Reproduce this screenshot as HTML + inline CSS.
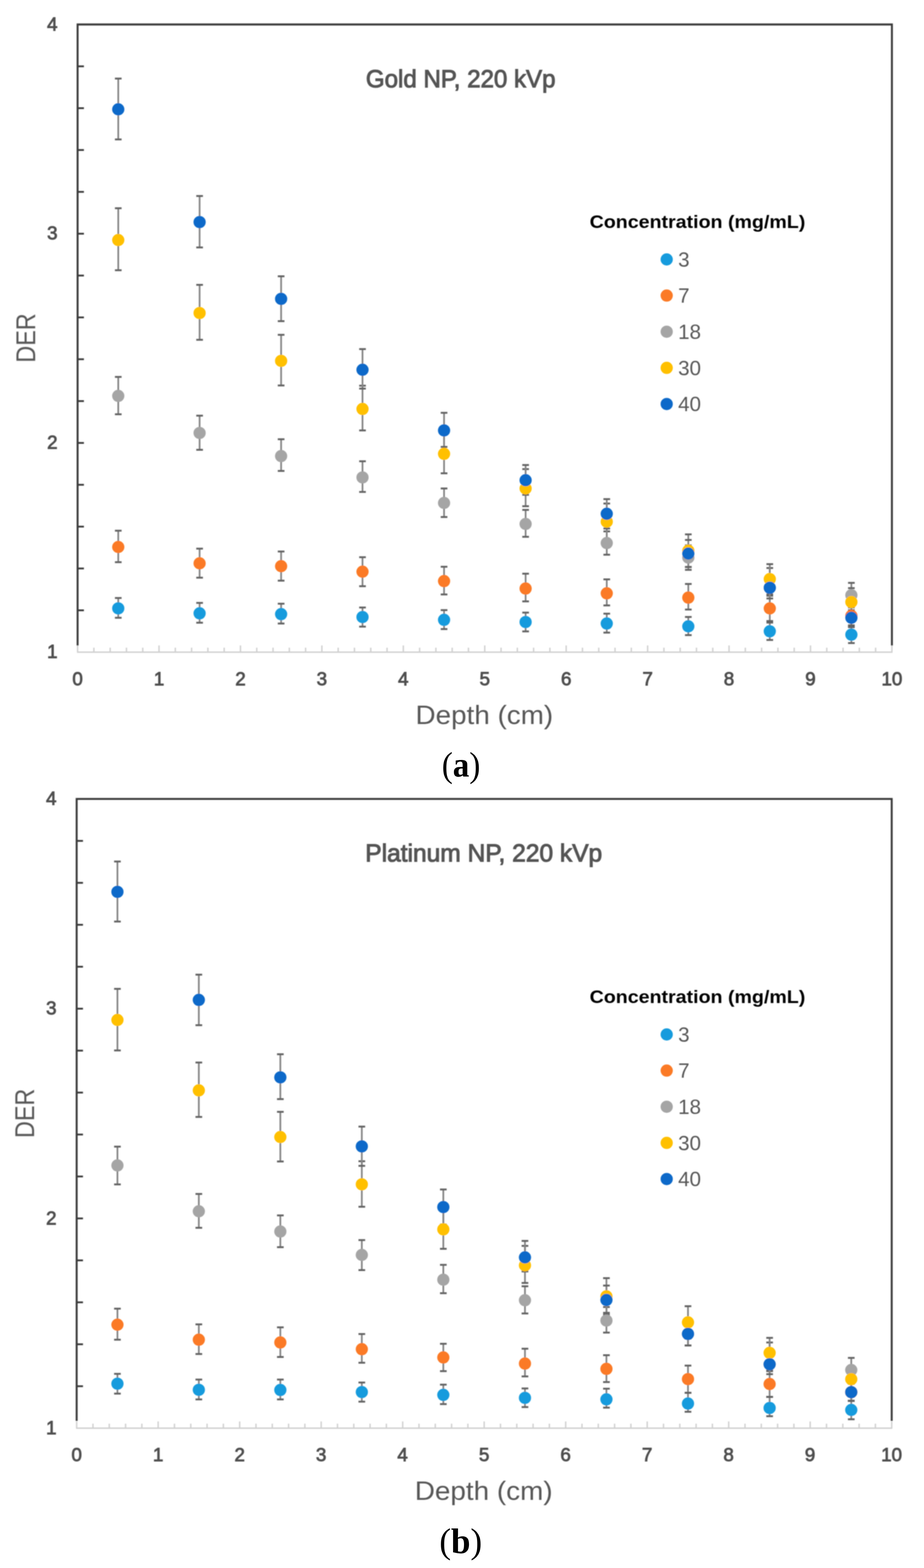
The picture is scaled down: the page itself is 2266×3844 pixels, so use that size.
<!DOCTYPE html>
<html lang="en">
<head>
<meta charset="utf-8">
<title>DER vs Depth - Gold and Platinum NP, 220 kVp</title>
<style>
html, body { margin: 0; padding: 0; background: #ffffff; }
body { width: 2266px; height: 3844px; overflow: hidden; }
svg { display: block; }
</style>
</head>
<body>
<svg width="2266" height="3844" viewBox="0 0 2266 3844">
<rect x="0" y="0" width="2266" height="3844" fill="#ffffff"/>
<defs><filter id="soft" filterUnits="userSpaceOnUse" x="0" y="0" width="2266" height="3844"><feGaussianBlur stdDeviation="0.9"/></filter></defs>
<g filter="url(#soft)">
<g stroke="#D0D0D0" stroke-width="3.4" fill="none">
<line x1="188.8" y1="1598.8" x2="2188.8" y2="1598.8"/>
<line x1="190.3" y1="1582.3" x2="190.3" y2="1598.8"/>
<line x1="230.24" y1="1587.8" x2="230.24" y2="1598.8"/>
<line x1="270.18" y1="1587.8" x2="270.18" y2="1598.8"/>
<line x1="310.12" y1="1587.8" x2="310.12" y2="1598.8"/>
<line x1="350.06" y1="1587.8" x2="350.06" y2="1598.8"/>
<line x1="390" y1="1582.3" x2="390" y2="1598.8"/>
<line x1="429.94" y1="1587.8" x2="429.94" y2="1598.8"/>
<line x1="469.88" y1="1587.8" x2="469.88" y2="1598.8"/>
<line x1="509.82" y1="1587.8" x2="509.82" y2="1598.8"/>
<line x1="549.76" y1="1587.8" x2="549.76" y2="1598.8"/>
<line x1="589.7" y1="1582.3" x2="589.7" y2="1598.8"/>
<line x1="629.64" y1="1587.8" x2="629.64" y2="1598.8"/>
<line x1="669.58" y1="1587.8" x2="669.58" y2="1598.8"/>
<line x1="709.52" y1="1587.8" x2="709.52" y2="1598.8"/>
<line x1="749.46" y1="1587.8" x2="749.46" y2="1598.8"/>
<line x1="789.4" y1="1582.3" x2="789.4" y2="1598.8"/>
<line x1="829.34" y1="1587.8" x2="829.34" y2="1598.8"/>
<line x1="869.28" y1="1587.8" x2="869.28" y2="1598.8"/>
<line x1="909.22" y1="1587.8" x2="909.22" y2="1598.8"/>
<line x1="949.16" y1="1587.8" x2="949.16" y2="1598.8"/>
<line x1="989.1" y1="1582.3" x2="989.1" y2="1598.8"/>
<line x1="1029.04" y1="1587.8" x2="1029.04" y2="1598.8"/>
<line x1="1068.98" y1="1587.8" x2="1068.98" y2="1598.8"/>
<line x1="1108.92" y1="1587.8" x2="1108.92" y2="1598.8"/>
<line x1="1148.86" y1="1587.8" x2="1148.86" y2="1598.8"/>
<line x1="1188.8" y1="1582.3" x2="1188.8" y2="1598.8"/>
<line x1="1228.74" y1="1587.8" x2="1228.74" y2="1598.8"/>
<line x1="1268.68" y1="1587.8" x2="1268.68" y2="1598.8"/>
<line x1="1308.62" y1="1587.8" x2="1308.62" y2="1598.8"/>
<line x1="1348.56" y1="1587.8" x2="1348.56" y2="1598.8"/>
<line x1="1388.5" y1="1582.3" x2="1388.5" y2="1598.8"/>
<line x1="1428.44" y1="1587.8" x2="1428.44" y2="1598.8"/>
<line x1="1468.38" y1="1587.8" x2="1468.38" y2="1598.8"/>
<line x1="1508.32" y1="1587.8" x2="1508.32" y2="1598.8"/>
<line x1="1548.26" y1="1587.8" x2="1548.26" y2="1598.8"/>
<line x1="1588.2" y1="1582.3" x2="1588.2" y2="1598.8"/>
<line x1="1628.14" y1="1587.8" x2="1628.14" y2="1598.8"/>
<line x1="1668.08" y1="1587.8" x2="1668.08" y2="1598.8"/>
<line x1="1708.02" y1="1587.8" x2="1708.02" y2="1598.8"/>
<line x1="1747.96" y1="1587.8" x2="1747.96" y2="1598.8"/>
<line x1="1787.9" y1="1582.3" x2="1787.9" y2="1598.8"/>
<line x1="1827.84" y1="1587.8" x2="1827.84" y2="1598.8"/>
<line x1="1867.78" y1="1587.8" x2="1867.78" y2="1598.8"/>
<line x1="1907.72" y1="1587.8" x2="1907.72" y2="1598.8"/>
<line x1="1947.66" y1="1587.8" x2="1947.66" y2="1598.8"/>
<line x1="1987.6" y1="1582.3" x2="1987.6" y2="1598.8"/>
<line x1="2027.54" y1="1587.8" x2="2027.54" y2="1598.8"/>
<line x1="2067.48" y1="1587.8" x2="2067.48" y2="1598.8"/>
<line x1="2107.42" y1="1587.8" x2="2107.42" y2="1598.8"/>
<line x1="2147.36" y1="1587.8" x2="2147.36" y2="1598.8"/>
<line x1="2187.3" y1="1582.3" x2="2187.3" y2="1598.8"/>
</g>
<path d="M190.3 1582.5 V60 H2187.3 V1582.5" stroke="#3A3A3A" stroke-width="4.8" fill="none" stroke-linejoin="miter"/>
<g stroke="#3A3A3A" stroke-width="4.4">
<line x1="190.3" y1="162.59" x2="205.8" y2="162.59"/>
<line x1="190.3" y1="265.17" x2="205.8" y2="265.17"/>
<line x1="190.3" y1="367.76" x2="205.8" y2="367.76"/>
<line x1="190.3" y1="470.35" x2="205.8" y2="470.35"/>
<line x1="190.3" y1="572.93" x2="205.8" y2="572.93"/>
<line x1="190.3" y1="675.52" x2="205.8" y2="675.52"/>
<line x1="190.3" y1="778.11" x2="205.8" y2="778.11"/>
<line x1="190.3" y1="880.69" x2="205.8" y2="880.69"/>
<line x1="190.3" y1="983.28" x2="205.8" y2="983.28"/>
<line x1="190.3" y1="1085.87" x2="205.8" y2="1085.87"/>
<line x1="190.3" y1="1188.45" x2="205.8" y2="1188.45"/>
<line x1="190.3" y1="1291.04" x2="205.8" y2="1291.04"/>
<line x1="190.3" y1="1393.63" x2="205.8" y2="1393.63"/>
<line x1="190.3" y1="1496.21" x2="205.8" y2="1496.21"/>
</g>
<g font-family="Liberation Sans, sans-serif" font-size="46" fill="#505050" stroke="#505050" stroke-width="1.8" text-anchor="end">
<text x="141" y="74.5">4</text>
<text x="141" y="587.43">3</text>
<text x="141" y="1100.37">2</text>
<text x="141" y="1613.3">1</text>
</g>
<g font-family="Liberation Sans, sans-serif" font-size="46" fill="#505050" stroke="#505050" stroke-width="1.8" text-anchor="middle">
<text x="190.3" y="1680">0</text>
<text x="390" y="1680">1</text>
<text x="589.7" y="1680">2</text>
<text x="789.4" y="1680">3</text>
<text x="989.1" y="1680">4</text>
<text x="1188.8" y="1680">5</text>
<text x="1388.5" y="1680">6</text>
<text x="1588.2" y="1680">7</text>
<text x="1787.9" y="1680">8</text>
<text x="1987.6" y="1680">9</text>
<text x="2187.3" y="1680">10</text>
</g>
<text x="1019" y="1775.2" font-family="Liberation Sans, sans-serif" font-size="64" fill="#595959" textLength="337.6" lengthAdjust="spacingAndGlyphs">Depth (cm)</text>
<text transform="translate(86.3 828.6) rotate(-90)" x="0" y="0" text-anchor="middle" font-family="Liberation Sans, sans-serif" font-size="67" fill="#595959" textLength="121" lengthAdjust="spacingAndGlyphs">DER</text>
<text x="897.3" y="213.6" font-family="Liberation Sans, sans-serif" font-size="62" fill="#545454" stroke="#545454" stroke-width="2.2" textLength="465" lengthAdjust="spacingAndGlyphs">Gold NP, 220 kVp</text>
<text x="1446" y="559.4" font-family="Liberation Sans, sans-serif" font-weight="bold" font-size="45" fill="#000" textLength="529" lengthAdjust="spacingAndGlyphs">Concentration (mg/mL)</text>
<circle cx="1635" cy="636" r="15" fill="#149BDD"/>
<text x="1663" y="653.8" font-family="Liberation Sans, sans-serif" font-size="50.5" fill="#595959">3</text>
<circle cx="1635" cy="724.6" r="15" fill="#FB7A26"/>
<text x="1663" y="742.4" font-family="Liberation Sans, sans-serif" font-size="50.5" fill="#595959">7</text>
<circle cx="1635" cy="813.2" r="15" fill="#A5A5A5"/>
<text x="1663" y="831" font-family="Liberation Sans, sans-serif" font-size="50.5" fill="#595959">18</text>
<circle cx="1635" cy="901.8" r="15" fill="#FFC000"/>
<text x="1663" y="919.6" font-family="Liberation Sans, sans-serif" font-size="50.5" fill="#595959">30</text>
<circle cx="1635" cy="990.4" r="15" fill="#0A69C9"/>
<text x="1663" y="1008.2" font-family="Liberation Sans, sans-serif" font-size="50.5" fill="#595959">40</text>
<g>
<line x1="290" y1="1466" x2="290" y2="1514.5" stroke="#858585" stroke-width="4.2"/>
<line x1="281.8" y1="1466" x2="298.2" y2="1466" stroke="#636363" stroke-width="4.6"/>
<line x1="281.8" y1="1514.5" x2="298.2" y2="1514.5" stroke="#636363" stroke-width="4.6"/>
<line x1="489.5" y1="1478" x2="489.5" y2="1526.6" stroke="#858585" stroke-width="4.2"/>
<line x1="481.3" y1="1478" x2="497.7" y2="1478" stroke="#636363" stroke-width="4.6"/>
<line x1="481.3" y1="1526.6" x2="497.7" y2="1526.6" stroke="#636363" stroke-width="4.6"/>
<line x1="689.4" y1="1480" x2="689.4" y2="1528.6" stroke="#858585" stroke-width="4.2"/>
<line x1="681.2" y1="1480" x2="697.6" y2="1480" stroke="#636363" stroke-width="4.6"/>
<line x1="681.2" y1="1528.6" x2="697.6" y2="1528.6" stroke="#636363" stroke-width="4.6"/>
<line x1="889" y1="1489.3" x2="889" y2="1536.2" stroke="#858585" stroke-width="4.2"/>
<line x1="880.8" y1="1489.3" x2="897.2" y2="1489.3" stroke="#636363" stroke-width="4.6"/>
<line x1="880.8" y1="1536.2" x2="897.2" y2="1536.2" stroke="#636363" stroke-width="4.6"/>
<line x1="1089" y1="1495.7" x2="1089" y2="1542.2" stroke="#858585" stroke-width="4.2"/>
<line x1="1080.8" y1="1495.7" x2="1097.2" y2="1495.7" stroke="#636363" stroke-width="4.6"/>
<line x1="1080.8" y1="1542.2" x2="1097.2" y2="1542.2" stroke="#636363" stroke-width="4.6"/>
<line x1="1289" y1="1501.8" x2="1289" y2="1547.9" stroke="#858585" stroke-width="4.2"/>
<line x1="1280.8" y1="1501.8" x2="1297.2" y2="1501.8" stroke="#636363" stroke-width="4.6"/>
<line x1="1280.8" y1="1547.9" x2="1297.2" y2="1547.9" stroke="#636363" stroke-width="4.6"/>
<line x1="1488" y1="1504.4" x2="1488" y2="1550.9" stroke="#858585" stroke-width="4.2"/>
<line x1="1479.8" y1="1504.4" x2="1496.2" y2="1504.4" stroke="#636363" stroke-width="4.6"/>
<line x1="1479.8" y1="1550.9" x2="1496.2" y2="1550.9" stroke="#636363" stroke-width="4.6"/>
<line x1="1688" y1="1512.5" x2="1688" y2="1557" stroke="#858585" stroke-width="4.2"/>
<line x1="1679.8" y1="1512.5" x2="1696.2" y2="1512.5" stroke="#636363" stroke-width="4.6"/>
<line x1="1679.8" y1="1557" x2="1696.2" y2="1557" stroke="#636363" stroke-width="4.6"/>
<line x1="1887.8" y1="1526.3" x2="1887.8" y2="1568.9" stroke="#858585" stroke-width="4.2"/>
<line x1="1879.6" y1="1526.3" x2="1896" y2="1526.3" stroke="#636363" stroke-width="4.6"/>
<line x1="1879.6" y1="1568.9" x2="1896" y2="1568.9" stroke="#636363" stroke-width="4.6"/>
<line x1="2087.9" y1="1535.1" x2="2087.9" y2="1576.5" stroke="#858585" stroke-width="4.2"/>
<line x1="2079.7" y1="1535.1" x2="2096.1" y2="1535.1" stroke="#636363" stroke-width="4.6"/>
<line x1="2079.7" y1="1576.5" x2="2096.1" y2="1576.5" stroke="#636363" stroke-width="4.6"/>
<line x1="290" y1="1301" x2="290" y2="1378.2" stroke="#858585" stroke-width="4.2"/>
<line x1="281.8" y1="1301" x2="298.2" y2="1301" stroke="#636363" stroke-width="4.6"/>
<line x1="281.8" y1="1378.2" x2="298.2" y2="1378.2" stroke="#636363" stroke-width="4.6"/>
<line x1="489.5" y1="1345" x2="489.5" y2="1416.2" stroke="#858585" stroke-width="4.2"/>
<line x1="481.3" y1="1345" x2="497.7" y2="1345" stroke="#636363" stroke-width="4.6"/>
<line x1="481.3" y1="1416.2" x2="497.7" y2="1416.2" stroke="#636363" stroke-width="4.6"/>
<line x1="689.4" y1="1352" x2="689.4" y2="1423.5" stroke="#858585" stroke-width="4.2"/>
<line x1="681.2" y1="1352" x2="697.6" y2="1352" stroke="#636363" stroke-width="4.6"/>
<line x1="681.2" y1="1423.5" x2="697.6" y2="1423.5" stroke="#636363" stroke-width="4.6"/>
<line x1="889" y1="1366" x2="889" y2="1437.1" stroke="#858585" stroke-width="4.2"/>
<line x1="880.8" y1="1366" x2="897.2" y2="1366" stroke="#636363" stroke-width="4.6"/>
<line x1="880.8" y1="1437.1" x2="897.2" y2="1437.1" stroke="#636363" stroke-width="4.6"/>
<line x1="1089" y1="1389.4" x2="1089" y2="1457.3" stroke="#858585" stroke-width="4.2"/>
<line x1="1080.8" y1="1389.4" x2="1097.2" y2="1389.4" stroke="#636363" stroke-width="4.6"/>
<line x1="1080.8" y1="1457.3" x2="1097.2" y2="1457.3" stroke="#636363" stroke-width="4.6"/>
<line x1="1289" y1="1406.4" x2="1289" y2="1474.3" stroke="#858585" stroke-width="4.2"/>
<line x1="1280.8" y1="1406.4" x2="1297.2" y2="1406.4" stroke="#636363" stroke-width="4.6"/>
<line x1="1280.8" y1="1474.3" x2="1297.2" y2="1474.3" stroke="#636363" stroke-width="4.6"/>
<line x1="1488" y1="1420.3" x2="1488" y2="1484.2" stroke="#858585" stroke-width="4.2"/>
<line x1="1479.8" y1="1420.3" x2="1496.2" y2="1420.3" stroke="#636363" stroke-width="4.6"/>
<line x1="1479.8" y1="1484.2" x2="1496.2" y2="1484.2" stroke="#636363" stroke-width="4.6"/>
<line x1="1688" y1="1431.6" x2="1688" y2="1494.3" stroke="#858585" stroke-width="4.2"/>
<line x1="1679.8" y1="1431.6" x2="1696.2" y2="1431.6" stroke="#636363" stroke-width="4.6"/>
<line x1="1679.8" y1="1494.3" x2="1696.2" y2="1494.3" stroke="#636363" stroke-width="4.6"/>
<line x1="1887.8" y1="1460.5" x2="1887.8" y2="1522.5" stroke="#858585" stroke-width="4.2"/>
<line x1="1879.6" y1="1460.5" x2="1896" y2="1460.5" stroke="#636363" stroke-width="4.6"/>
<line x1="1879.6" y1="1522.5" x2="1896" y2="1522.5" stroke="#636363" stroke-width="4.6"/>
<line x1="2087.9" y1="1482" x2="2087.9" y2="1537.5" stroke="#858585" stroke-width="4.2"/>
<line x1="2079.7" y1="1482" x2="2096.1" y2="1482" stroke="#636363" stroke-width="4.6"/>
<line x1="2079.7" y1="1537.5" x2="2096.1" y2="1537.5" stroke="#636363" stroke-width="4.6"/>
<line x1="290" y1="924" x2="290" y2="1015.6" stroke="#858585" stroke-width="4.2"/>
<line x1="281.8" y1="924" x2="298.2" y2="924" stroke="#636363" stroke-width="4.6"/>
<line x1="281.8" y1="1015.6" x2="298.2" y2="1015.6" stroke="#636363" stroke-width="4.6"/>
<line x1="489.5" y1="1019" x2="489.5" y2="1102.7" stroke="#858585" stroke-width="4.2"/>
<line x1="481.3" y1="1019" x2="497.7" y2="1019" stroke="#636363" stroke-width="4.6"/>
<line x1="481.3" y1="1102.7" x2="497.7" y2="1102.7" stroke="#636363" stroke-width="4.6"/>
<line x1="689.4" y1="1076.8" x2="689.4" y2="1154.5" stroke="#858585" stroke-width="4.2"/>
<line x1="681.2" y1="1076.8" x2="697.6" y2="1076.8" stroke="#636363" stroke-width="4.6"/>
<line x1="681.2" y1="1154.5" x2="697.6" y2="1154.5" stroke="#636363" stroke-width="4.6"/>
<line x1="889" y1="1130.8" x2="889" y2="1206" stroke="#858585" stroke-width="4.2"/>
<line x1="880.8" y1="1130.8" x2="897.2" y2="1130.8" stroke="#636363" stroke-width="4.6"/>
<line x1="880.8" y1="1206" x2="897.2" y2="1206" stroke="#636363" stroke-width="4.6"/>
<line x1="1089" y1="1197.5" x2="1089" y2="1267.5" stroke="#858585" stroke-width="4.2"/>
<line x1="1080.8" y1="1197.5" x2="1097.2" y2="1197.5" stroke="#636363" stroke-width="4.6"/>
<line x1="1080.8" y1="1267.5" x2="1097.2" y2="1267.5" stroke="#636363" stroke-width="4.6"/>
<line x1="1289" y1="1250" x2="1289" y2="1316" stroke="#858585" stroke-width="4.2"/>
<line x1="1280.8" y1="1250" x2="1297.2" y2="1250" stroke="#636363" stroke-width="4.6"/>
<line x1="1280.8" y1="1316" x2="1297.2" y2="1316" stroke="#636363" stroke-width="4.6"/>
<line x1="1488" y1="1302.7" x2="1488" y2="1359.9" stroke="#858585" stroke-width="4.2"/>
<line x1="1479.8" y1="1302.7" x2="1496.2" y2="1302.7" stroke="#636363" stroke-width="4.6"/>
<line x1="1479.8" y1="1359.9" x2="1496.2" y2="1359.9" stroke="#636363" stroke-width="4.6"/>
<line x1="1688" y1="1337" x2="1688" y2="1397" stroke="#858585" stroke-width="4.2"/>
<line x1="1679.8" y1="1337" x2="1696.2" y2="1337" stroke="#636363" stroke-width="4.6"/>
<line x1="1679.8" y1="1397" x2="1696.2" y2="1397" stroke="#636363" stroke-width="4.6"/>
<line x1="1887.8" y1="1392.5" x2="1887.8" y2="1481.5" stroke="#858585" stroke-width="4.2"/>
<line x1="1879.6" y1="1392.5" x2="1896" y2="1392.5" stroke="#636363" stroke-width="4.6"/>
<line x1="1879.6" y1="1481.5" x2="1896" y2="1481.5" stroke="#636363" stroke-width="4.6"/>
<line x1="2087.9" y1="1428.9" x2="2087.9" y2="1489" stroke="#858585" stroke-width="4.2"/>
<line x1="2079.7" y1="1428.9" x2="2096.1" y2="1428.9" stroke="#636363" stroke-width="4.6"/>
<line x1="2079.7" y1="1489" x2="2096.1" y2="1489" stroke="#636363" stroke-width="4.6"/>
<line x1="290" y1="510.5" x2="290" y2="662.5" stroke="#858585" stroke-width="4.2"/>
<line x1="281.8" y1="510.5" x2="298.2" y2="510.5" stroke="#636363" stroke-width="4.6"/>
<line x1="281.8" y1="662.5" x2="298.2" y2="662.5" stroke="#636363" stroke-width="4.6"/>
<line x1="489.5" y1="698.3" x2="489.5" y2="833" stroke="#858585" stroke-width="4.2"/>
<line x1="481.3" y1="698.3" x2="497.7" y2="698.3" stroke="#636363" stroke-width="4.6"/>
<line x1="481.3" y1="833" x2="497.7" y2="833" stroke="#636363" stroke-width="4.6"/>
<line x1="689.4" y1="820.8" x2="689.4" y2="945" stroke="#858585" stroke-width="4.2"/>
<line x1="681.2" y1="820.8" x2="697.6" y2="820.8" stroke="#636363" stroke-width="4.6"/>
<line x1="681.2" y1="945" x2="697.6" y2="945" stroke="#636363" stroke-width="4.6"/>
<line x1="889" y1="945.5" x2="889" y2="1055.2" stroke="#858585" stroke-width="4.2"/>
<line x1="880.8" y1="945.5" x2="897.2" y2="945.5" stroke="#636363" stroke-width="4.6"/>
<line x1="880.8" y1="1055.2" x2="897.2" y2="1055.2" stroke="#636363" stroke-width="4.6"/>
<line x1="1089" y1="1065" x2="1089" y2="1160.3" stroke="#858585" stroke-width="4.2"/>
<line x1="1080.8" y1="1065" x2="1097.2" y2="1065" stroke="#636363" stroke-width="4.6"/>
<line x1="1080.8" y1="1160.3" x2="1097.2" y2="1160.3" stroke="#636363" stroke-width="4.6"/>
<line x1="1289" y1="1150" x2="1289" y2="1241" stroke="#858585" stroke-width="4.2"/>
<line x1="1280.8" y1="1150" x2="1297.2" y2="1150" stroke="#636363" stroke-width="4.6"/>
<line x1="1280.8" y1="1241" x2="1297.2" y2="1241" stroke="#636363" stroke-width="4.6"/>
<line x1="1488" y1="1234.4" x2="1488" y2="1323" stroke="#858585" stroke-width="4.2"/>
<line x1="1479.8" y1="1234.4" x2="1496.2" y2="1234.4" stroke="#636363" stroke-width="4.6"/>
<line x1="1479.8" y1="1323" x2="1496.2" y2="1323" stroke="#636363" stroke-width="4.6"/>
<line x1="1688" y1="1310" x2="1688" y2="1390" stroke="#858585" stroke-width="4.2"/>
<line x1="1679.8" y1="1310" x2="1696.2" y2="1310" stroke="#636363" stroke-width="4.6"/>
<line x1="1679.8" y1="1390" x2="1696.2" y2="1390" stroke="#636363" stroke-width="4.6"/>
<line x1="1887.8" y1="1383" x2="1887.8" y2="1457.3" stroke="#858585" stroke-width="4.2"/>
<line x1="1879.6" y1="1383" x2="1896" y2="1383" stroke="#636363" stroke-width="4.6"/>
<line x1="1879.6" y1="1457.3" x2="1896" y2="1457.3" stroke="#636363" stroke-width="4.6"/>
<line x1="2087.9" y1="1441.8" x2="2087.9" y2="1509.8" stroke="#858585" stroke-width="4.2"/>
<line x1="2079.7" y1="1441.8" x2="2096.1" y2="1441.8" stroke="#636363" stroke-width="4.6"/>
<line x1="2079.7" y1="1509.8" x2="2096.1" y2="1509.8" stroke="#636363" stroke-width="4.6"/>
<line x1="290" y1="192.6" x2="290" y2="341.8" stroke="#858585" stroke-width="4.2"/>
<line x1="281.8" y1="192.6" x2="298.2" y2="192.6" stroke="#636363" stroke-width="4.6"/>
<line x1="281.8" y1="341.8" x2="298.2" y2="341.8" stroke="#636363" stroke-width="4.6"/>
<line x1="489.5" y1="480.5" x2="489.5" y2="606.6" stroke="#858585" stroke-width="4.2"/>
<line x1="481.3" y1="480.5" x2="497.7" y2="480.5" stroke="#636363" stroke-width="4.6"/>
<line x1="481.3" y1="606.6" x2="497.7" y2="606.6" stroke="#636363" stroke-width="4.6"/>
<line x1="689.4" y1="677.3" x2="689.4" y2="787.3" stroke="#858585" stroke-width="4.2"/>
<line x1="681.2" y1="677.3" x2="697.6" y2="677.3" stroke="#636363" stroke-width="4.6"/>
<line x1="681.2" y1="787.3" x2="697.6" y2="787.3" stroke="#636363" stroke-width="4.6"/>
<line x1="889" y1="855.8" x2="889" y2="952.7" stroke="#858585" stroke-width="4.2"/>
<line x1="880.8" y1="855.8" x2="897.2" y2="855.8" stroke="#636363" stroke-width="4.6"/>
<line x1="880.8" y1="952.7" x2="897.2" y2="952.7" stroke="#636363" stroke-width="4.6"/>
<line x1="1089" y1="1012" x2="1089" y2="1095.6" stroke="#858585" stroke-width="4.2"/>
<line x1="1080.8" y1="1012" x2="1097.2" y2="1012" stroke="#636363" stroke-width="4.6"/>
<line x1="1080.8" y1="1095.6" x2="1097.2" y2="1095.6" stroke="#636363" stroke-width="4.6"/>
<line x1="1289" y1="1140" x2="1289" y2="1213" stroke="#858585" stroke-width="4.2"/>
<line x1="1280.8" y1="1140" x2="1297.2" y2="1140" stroke="#636363" stroke-width="4.6"/>
<line x1="1280.8" y1="1213" x2="1297.2" y2="1213" stroke="#636363" stroke-width="4.6"/>
<line x1="1488" y1="1223.6" x2="1488" y2="1295.6" stroke="#858585" stroke-width="4.2"/>
<line x1="1479.8" y1="1223.6" x2="1496.2" y2="1223.6" stroke="#636363" stroke-width="4.6"/>
<line x1="1479.8" y1="1295.6" x2="1496.2" y2="1295.6" stroke="#636363" stroke-width="4.6"/>
<line x1="1688" y1="1323.7" x2="1688" y2="1390" stroke="#858585" stroke-width="4.2"/>
<line x1="1679.8" y1="1323.7" x2="1696.2" y2="1323.7" stroke="#636363" stroke-width="4.6"/>
<line x1="1679.8" y1="1390" x2="1696.2" y2="1390" stroke="#636363" stroke-width="4.6"/>
<line x1="1887.8" y1="1414.4" x2="1887.8" y2="1467.2" stroke="#858585" stroke-width="4.2"/>
<line x1="1879.6" y1="1414.4" x2="1896" y2="1414.4" stroke="#636363" stroke-width="4.6"/>
<line x1="1879.6" y1="1467.2" x2="1896" y2="1467.2" stroke="#636363" stroke-width="4.6"/>
<line x1="2087.9" y1="1496" x2="2087.9" y2="1533" stroke="#858585" stroke-width="4.2"/>
<line x1="2079.7" y1="1496" x2="2096.1" y2="1496" stroke="#636363" stroke-width="4.6"/>
<line x1="2079.7" y1="1533" x2="2096.1" y2="1533" stroke="#636363" stroke-width="4.6"/>
</g>
<g fill="#149BDD">
<circle cx="290" cy="1491.4" r="15"/>
<circle cx="489.5" cy="1503.6" r="15"/>
<circle cx="689.4" cy="1505.6" r="15"/>
<circle cx="889" cy="1512.7" r="15"/>
<circle cx="1089" cy="1519.6" r="15"/>
<circle cx="1289" cy="1524.9" r="15"/>
<circle cx="1488" cy="1528.6" r="15"/>
<circle cx="1688" cy="1535.5" r="15"/>
<circle cx="1887.8" cy="1547.6" r="15"/>
<circle cx="2087.9" cy="1555.8" r="15"/>
</g>
<g fill="#FB7A26">
<circle cx="290" cy="1341" r="15"/>
<circle cx="489.5" cy="1381" r="15"/>
<circle cx="689.4" cy="1388" r="15"/>
<circle cx="889" cy="1401.5" r="15"/>
<circle cx="1089" cy="1424.6" r="15"/>
<circle cx="1289" cy="1442.8" r="15"/>
<circle cx="1488" cy="1454.6" r="15"/>
<circle cx="1688" cy="1465.1" r="15"/>
<circle cx="1887.8" cy="1491.5" r="15"/>
<circle cx="2087.9" cy="1509.7" r="15"/>
</g>
<g fill="#A5A5A5">
<circle cx="290" cy="970.6" r="15"/>
<circle cx="489.5" cy="1061.4" r="15"/>
<circle cx="689.4" cy="1118.1" r="15"/>
<circle cx="889" cy="1170.4" r="15"/>
<circle cx="1089" cy="1233" r="15"/>
<circle cx="1289" cy="1284.5" r="15"/>
<circle cx="1488" cy="1331.3" r="15"/>
<circle cx="1688" cy="1367" r="15"/>
<circle cx="1887.8" cy="1440.8" r="15"/>
<circle cx="2087.9" cy="1459" r="15"/>
</g>
<g fill="#FFC000">
<circle cx="290" cy="588.5" r="15"/>
<circle cx="489.5" cy="767.4" r="15"/>
<circle cx="689.4" cy="884.7" r="15"/>
<circle cx="889" cy="1002.6" r="15"/>
<circle cx="1089" cy="1112.6" r="15"/>
<circle cx="1289" cy="1197.5" r="15"/>
<circle cx="1488" cy="1279" r="15"/>
<circle cx="1688" cy="1350" r="15"/>
<circle cx="1887.8" cy="1419.6" r="15"/>
<circle cx="2087.9" cy="1475.8" r="15"/>
</g>
<g fill="#0A69C9">
<circle cx="290" cy="268" r="15"/>
<circle cx="489.5" cy="544.4" r="15"/>
<circle cx="689.4" cy="732.7" r="15"/>
<circle cx="889" cy="906.5" r="15"/>
<circle cx="1089" cy="1055.2" r="15"/>
<circle cx="1289" cy="1177.3" r="15"/>
<circle cx="1488" cy="1259.6" r="15"/>
<circle cx="1688" cy="1357" r="15"/>
<circle cx="1887.8" cy="1440.8" r="15"/>
<circle cx="2087.9" cy="1514.4" r="15"/>
</g>
<g stroke="#D0D0D0" stroke-width="3.4" fill="none">
<line x1="186.5" y1="3501.2" x2="2188.3" y2="3501.2"/>
<line x1="188" y1="3484.7" x2="188" y2="3501.2"/>
<line x1="227.98" y1="3490.2" x2="227.98" y2="3501.2"/>
<line x1="267.95" y1="3490.2" x2="267.95" y2="3501.2"/>
<line x1="307.93" y1="3490.2" x2="307.93" y2="3501.2"/>
<line x1="347.9" y1="3490.2" x2="347.9" y2="3501.2"/>
<line x1="387.88" y1="3484.7" x2="387.88" y2="3501.2"/>
<line x1="427.86" y1="3490.2" x2="427.86" y2="3501.2"/>
<line x1="467.83" y1="3490.2" x2="467.83" y2="3501.2"/>
<line x1="507.81" y1="3490.2" x2="507.81" y2="3501.2"/>
<line x1="547.78" y1="3490.2" x2="547.78" y2="3501.2"/>
<line x1="587.76" y1="3484.7" x2="587.76" y2="3501.2"/>
<line x1="627.74" y1="3490.2" x2="627.74" y2="3501.2"/>
<line x1="667.71" y1="3490.2" x2="667.71" y2="3501.2"/>
<line x1="707.69" y1="3490.2" x2="707.69" y2="3501.2"/>
<line x1="747.66" y1="3490.2" x2="747.66" y2="3501.2"/>
<line x1="787.64" y1="3484.7" x2="787.64" y2="3501.2"/>
<line x1="827.62" y1="3490.2" x2="827.62" y2="3501.2"/>
<line x1="867.59" y1="3490.2" x2="867.59" y2="3501.2"/>
<line x1="907.57" y1="3490.2" x2="907.57" y2="3501.2"/>
<line x1="947.54" y1="3490.2" x2="947.54" y2="3501.2"/>
<line x1="987.52" y1="3484.7" x2="987.52" y2="3501.2"/>
<line x1="1027.5" y1="3490.2" x2="1027.5" y2="3501.2"/>
<line x1="1067.47" y1="3490.2" x2="1067.47" y2="3501.2"/>
<line x1="1107.45" y1="3490.2" x2="1107.45" y2="3501.2"/>
<line x1="1147.42" y1="3490.2" x2="1147.42" y2="3501.2"/>
<line x1="1187.4" y1="3484.7" x2="1187.4" y2="3501.2"/>
<line x1="1227.38" y1="3490.2" x2="1227.38" y2="3501.2"/>
<line x1="1267.35" y1="3490.2" x2="1267.35" y2="3501.2"/>
<line x1="1307.33" y1="3490.2" x2="1307.33" y2="3501.2"/>
<line x1="1347.3" y1="3490.2" x2="1347.3" y2="3501.2"/>
<line x1="1387.28" y1="3484.7" x2="1387.28" y2="3501.2"/>
<line x1="1427.26" y1="3490.2" x2="1427.26" y2="3501.2"/>
<line x1="1467.23" y1="3490.2" x2="1467.23" y2="3501.2"/>
<line x1="1507.21" y1="3490.2" x2="1507.21" y2="3501.2"/>
<line x1="1547.18" y1="3490.2" x2="1547.18" y2="3501.2"/>
<line x1="1587.16" y1="3484.7" x2="1587.16" y2="3501.2"/>
<line x1="1627.14" y1="3490.2" x2="1627.14" y2="3501.2"/>
<line x1="1667.11" y1="3490.2" x2="1667.11" y2="3501.2"/>
<line x1="1707.09" y1="3490.2" x2="1707.09" y2="3501.2"/>
<line x1="1747.06" y1="3490.2" x2="1747.06" y2="3501.2"/>
<line x1="1787.04" y1="3484.7" x2="1787.04" y2="3501.2"/>
<line x1="1827.02" y1="3490.2" x2="1827.02" y2="3501.2"/>
<line x1="1866.99" y1="3490.2" x2="1866.99" y2="3501.2"/>
<line x1="1906.97" y1="3490.2" x2="1906.97" y2="3501.2"/>
<line x1="1946.94" y1="3490.2" x2="1946.94" y2="3501.2"/>
<line x1="1986.92" y1="3484.7" x2="1986.92" y2="3501.2"/>
<line x1="2026.9" y1="3490.2" x2="2026.9" y2="3501.2"/>
<line x1="2066.87" y1="3490.2" x2="2066.87" y2="3501.2"/>
<line x1="2106.85" y1="3490.2" x2="2106.85" y2="3501.2"/>
<line x1="2146.82" y1="3490.2" x2="2146.82" y2="3501.2"/>
<line x1="2186.8" y1="3484.7" x2="2186.8" y2="3501.2"/>
</g>
<path d="M188 3483.4 V1958.6 H2186.8 V3483.4" stroke="#3A3A3A" stroke-width="4.8" fill="none" stroke-linejoin="miter"/>
<g stroke="#3A3A3A" stroke-width="4.4">
<line x1="188" y1="2061.44" x2="203.5" y2="2061.44"/>
<line x1="188" y1="2164.28" x2="203.5" y2="2164.28"/>
<line x1="188" y1="2267.12" x2="203.5" y2="2267.12"/>
<line x1="188" y1="2369.96" x2="203.5" y2="2369.96"/>
<line x1="188" y1="2472.8" x2="203.5" y2="2472.8"/>
<line x1="188" y1="2575.64" x2="203.5" y2="2575.64"/>
<line x1="188" y1="2678.48" x2="203.5" y2="2678.48"/>
<line x1="188" y1="2781.32" x2="203.5" y2="2781.32"/>
<line x1="188" y1="2884.16" x2="203.5" y2="2884.16"/>
<line x1="188" y1="2987" x2="203.5" y2="2987"/>
<line x1="188" y1="3089.84" x2="203.5" y2="3089.84"/>
<line x1="188" y1="3192.68" x2="203.5" y2="3192.68"/>
<line x1="188" y1="3295.52" x2="203.5" y2="3295.52"/>
<line x1="188" y1="3398.36" x2="203.5" y2="3398.36"/>
</g>
<g font-family="Liberation Sans, sans-serif" font-size="46" fill="#505050" stroke="#505050" stroke-width="1.8" text-anchor="end">
<text x="138.5" y="1973.1">4</text>
<text x="138.5" y="2487.3">3</text>
<text x="138.5" y="3001.5">2</text>
<text x="138.5" y="3515.7">1</text>
</g>
<g font-family="Liberation Sans, sans-serif" font-size="46" fill="#505050" stroke="#505050" stroke-width="1.8" text-anchor="middle">
<text x="188" y="3582">0</text>
<text x="387.85" y="3582">1</text>
<text x="587.7" y="3582">2</text>
<text x="787.55" y="3582">3</text>
<text x="987.4" y="3582">4</text>
<text x="1187.25" y="3582">5</text>
<text x="1387.1" y="3582">6</text>
<text x="1586.95" y="3582">7</text>
<text x="1786.8" y="3582">8</text>
<text x="1986.65" y="3582">9</text>
<text x="2186.5" y="3582">10</text>
</g>
<text x="1017.2" y="3676.9" font-family="Liberation Sans, sans-serif" font-size="64" fill="#595959" textLength="338" lengthAdjust="spacingAndGlyphs">Depth (cm)</text>
<text transform="translate(83.6 2729.4) rotate(-90)" x="0" y="0" text-anchor="middle" font-family="Liberation Sans, sans-serif" font-size="67" fill="#595959" textLength="121" lengthAdjust="spacingAndGlyphs">DER</text>
<text x="895.8" y="2111.8" font-family="Liberation Sans, sans-serif" font-size="62" fill="#545454" stroke="#545454" stroke-width="2.2" textLength="581" lengthAdjust="spacingAndGlyphs">Platinum NP, 220 kVp</text>
<text x="1446" y="2459.4" font-family="Liberation Sans, sans-serif" font-weight="bold" font-size="45" fill="#000" textLength="529" lengthAdjust="spacingAndGlyphs">Concentration (mg/mL)</text>
<circle cx="1635" cy="2536" r="15" fill="#149BDD"/>
<text x="1663" y="2553.8" font-family="Liberation Sans, sans-serif" font-size="50.5" fill="#595959">3</text>
<circle cx="1635" cy="2624.6" r="15" fill="#FB7A26"/>
<text x="1663" y="2642.4" font-family="Liberation Sans, sans-serif" font-size="50.5" fill="#595959">7</text>
<circle cx="1635" cy="2713.2" r="15" fill="#A5A5A5"/>
<text x="1663" y="2731" font-family="Liberation Sans, sans-serif" font-size="50.5" fill="#595959">18</text>
<circle cx="1635" cy="2801.8" r="15" fill="#FFC000"/>
<text x="1663" y="2819.6" font-family="Liberation Sans, sans-serif" font-size="50.5" fill="#595959">30</text>
<circle cx="1635" cy="2890.4" r="15" fill="#0A69C9"/>
<text x="1663" y="2908.2" font-family="Liberation Sans, sans-serif" font-size="50.5" fill="#595959">40</text>
<g>
<line x1="288" y1="3368" x2="288" y2="3416.5" stroke="#858585" stroke-width="4.2"/>
<line x1="279.8" y1="3368" x2="296.2" y2="3368" stroke="#636363" stroke-width="4.6"/>
<line x1="279.8" y1="3416.5" x2="296.2" y2="3416.5" stroke="#636363" stroke-width="4.6"/>
<line x1="487.6" y1="3382" x2="487.6" y2="3430.7" stroke="#858585" stroke-width="4.2"/>
<line x1="479.4" y1="3382" x2="495.8" y2="3382" stroke="#636363" stroke-width="4.6"/>
<line x1="479.4" y1="3430.7" x2="495.8" y2="3430.7" stroke="#636363" stroke-width="4.6"/>
<line x1="687.5" y1="3382" x2="687.5" y2="3430.7" stroke="#858585" stroke-width="4.2"/>
<line x1="679.3" y1="3382" x2="695.7" y2="3382" stroke="#636363" stroke-width="4.6"/>
<line x1="679.3" y1="3430.7" x2="695.7" y2="3430.7" stroke="#636363" stroke-width="4.6"/>
<line x1="887.3" y1="3389.3" x2="887.3" y2="3436.2" stroke="#858585" stroke-width="4.2"/>
<line x1="879.1" y1="3389.3" x2="895.5" y2="3389.3" stroke="#636363" stroke-width="4.6"/>
<line x1="879.1" y1="3436.2" x2="895.5" y2="3436.2" stroke="#636363" stroke-width="4.6"/>
<line x1="1087.2" y1="3394.5" x2="1087.2" y2="3442.2" stroke="#858585" stroke-width="4.2"/>
<line x1="1079" y1="3394.5" x2="1095.4" y2="3394.5" stroke="#636363" stroke-width="4.6"/>
<line x1="1079" y1="3442.2" x2="1095.4" y2="3442.2" stroke="#636363" stroke-width="4.6"/>
<line x1="1287.4" y1="3403.8" x2="1287.4" y2="3449.5" stroke="#858585" stroke-width="4.2"/>
<line x1="1279.2" y1="3403.8" x2="1295.6" y2="3403.8" stroke="#636363" stroke-width="4.6"/>
<line x1="1279.2" y1="3449.5" x2="1295.6" y2="3449.5" stroke="#636363" stroke-width="4.6"/>
<line x1="1487.2" y1="3404.4" x2="1487.2" y2="3450.9" stroke="#858585" stroke-width="4.2"/>
<line x1="1479" y1="3404.4" x2="1495.4" y2="3404.4" stroke="#636363" stroke-width="4.6"/>
<line x1="1479" y1="3450.9" x2="1495.4" y2="3450.9" stroke="#636363" stroke-width="4.6"/>
<line x1="1687.2" y1="3414.5" x2="1687.2" y2="3461" stroke="#858585" stroke-width="4.2"/>
<line x1="1679" y1="3414.5" x2="1695.4" y2="3414.5" stroke="#636363" stroke-width="4.6"/>
<line x1="1679" y1="3461" x2="1695.4" y2="3461" stroke="#636363" stroke-width="4.6"/>
<line x1="1887.4" y1="3424.6" x2="1887.4" y2="3471.9" stroke="#858585" stroke-width="4.2"/>
<line x1="1879.2" y1="3424.6" x2="1895.6" y2="3424.6" stroke="#636363" stroke-width="4.6"/>
<line x1="1879.2" y1="3471.9" x2="1895.6" y2="3471.9" stroke="#636363" stroke-width="4.6"/>
<line x1="2087.6" y1="3434.5" x2="2087.6" y2="3479.4" stroke="#858585" stroke-width="4.2"/>
<line x1="2079.4" y1="3434.5" x2="2095.8" y2="3434.5" stroke="#636363" stroke-width="4.6"/>
<line x1="2079.4" y1="3479.4" x2="2095.8" y2="3479.4" stroke="#636363" stroke-width="4.6"/>
<line x1="288" y1="3208.2" x2="288" y2="3284.3" stroke="#858585" stroke-width="4.2"/>
<line x1="279.8" y1="3208.2" x2="296.2" y2="3208.2" stroke="#636363" stroke-width="4.6"/>
<line x1="279.8" y1="3284.3" x2="296.2" y2="3284.3" stroke="#636363" stroke-width="4.6"/>
<line x1="487.6" y1="3246.7" x2="487.6" y2="3319.4" stroke="#858585" stroke-width="4.2"/>
<line x1="479.4" y1="3246.7" x2="495.8" y2="3246.7" stroke="#636363" stroke-width="4.6"/>
<line x1="479.4" y1="3319.4" x2="495.8" y2="3319.4" stroke="#636363" stroke-width="4.6"/>
<line x1="687.5" y1="3254" x2="687.5" y2="3326.7" stroke="#858585" stroke-width="4.2"/>
<line x1="679.3" y1="3254" x2="695.7" y2="3254" stroke="#636363" stroke-width="4.6"/>
<line x1="679.3" y1="3326.7" x2="695.7" y2="3326.7" stroke="#636363" stroke-width="4.6"/>
<line x1="887.3" y1="3270.4" x2="887.3" y2="3340.8" stroke="#858585" stroke-width="4.2"/>
<line x1="879.1" y1="3270.4" x2="895.5" y2="3270.4" stroke="#636363" stroke-width="4.6"/>
<line x1="879.1" y1="3340.8" x2="895.5" y2="3340.8" stroke="#636363" stroke-width="4.6"/>
<line x1="1087.2" y1="3294.3" x2="1087.2" y2="3361.4" stroke="#858585" stroke-width="4.2"/>
<line x1="1079" y1="3294.3" x2="1095.4" y2="3294.3" stroke="#636363" stroke-width="4.6"/>
<line x1="1079" y1="3361.4" x2="1095.4" y2="3361.4" stroke="#636363" stroke-width="4.6"/>
<line x1="1287.4" y1="3306.4" x2="1287.4" y2="3374.3" stroke="#858585" stroke-width="4.2"/>
<line x1="1279.2" y1="3306.4" x2="1295.6" y2="3306.4" stroke="#636363" stroke-width="4.6"/>
<line x1="1279.2" y1="3374.3" x2="1295.6" y2="3374.3" stroke="#636363" stroke-width="4.6"/>
<line x1="1487.2" y1="3322.3" x2="1487.2" y2="3388.2" stroke="#858585" stroke-width="4.2"/>
<line x1="1479" y1="3322.3" x2="1495.4" y2="3322.3" stroke="#636363" stroke-width="4.6"/>
<line x1="1479" y1="3388.2" x2="1495.4" y2="3388.2" stroke="#636363" stroke-width="4.6"/>
<line x1="1687.2" y1="3347.8" x2="1687.2" y2="3414.5" stroke="#858585" stroke-width="4.2"/>
<line x1="1679" y1="3347.8" x2="1695.4" y2="3347.8" stroke="#636363" stroke-width="4.6"/>
<line x1="1679" y1="3414.5" x2="1695.4" y2="3414.5" stroke="#636363" stroke-width="4.6"/>
<line x1="1887.4" y1="3361.4" x2="1887.4" y2="3424.6" stroke="#858585" stroke-width="4.2"/>
<line x1="1879.2" y1="3361.4" x2="1895.6" y2="3361.4" stroke="#636363" stroke-width="4.6"/>
<line x1="1879.2" y1="3424.6" x2="1895.6" y2="3424.6" stroke="#636363" stroke-width="4.6"/>
<line x1="2087.6" y1="3392" x2="2087.6" y2="3434" stroke="#858585" stroke-width="4.2"/>
<line x1="2079.4" y1="3392" x2="2095.8" y2="3392" stroke="#636363" stroke-width="4.6"/>
<line x1="2079.4" y1="3434" x2="2095.8" y2="3434" stroke="#636363" stroke-width="4.6"/>
<line x1="288" y1="2811" x2="288" y2="2903.6" stroke="#858585" stroke-width="4.2"/>
<line x1="279.8" y1="2811" x2="296.2" y2="2811" stroke="#636363" stroke-width="4.6"/>
<line x1="279.8" y1="2903.6" x2="296.2" y2="2903.6" stroke="#636363" stroke-width="4.6"/>
<line x1="487.6" y1="2927" x2="487.6" y2="3010" stroke="#858585" stroke-width="4.2"/>
<line x1="479.4" y1="2927" x2="495.8" y2="2927" stroke="#636363" stroke-width="4.6"/>
<line x1="479.4" y1="3010" x2="495.8" y2="3010" stroke="#636363" stroke-width="4.6"/>
<line x1="687.5" y1="2979.6" x2="687.5" y2="3057.5" stroke="#858585" stroke-width="4.2"/>
<line x1="679.3" y1="2979.6" x2="695.7" y2="2979.6" stroke="#636363" stroke-width="4.6"/>
<line x1="679.3" y1="3057.5" x2="695.7" y2="3057.5" stroke="#636363" stroke-width="4.6"/>
<line x1="887.3" y1="3040.1" x2="887.3" y2="3113.7" stroke="#858585" stroke-width="4.2"/>
<line x1="879.1" y1="3040.1" x2="895.5" y2="3040.1" stroke="#636363" stroke-width="4.6"/>
<line x1="879.1" y1="3113.7" x2="895.5" y2="3113.7" stroke="#636363" stroke-width="4.6"/>
<line x1="1087.2" y1="3100.8" x2="1087.2" y2="3170.3" stroke="#858585" stroke-width="4.2"/>
<line x1="1079" y1="3100.8" x2="1095.4" y2="3100.8" stroke="#636363" stroke-width="4.6"/>
<line x1="1079" y1="3170.3" x2="1095.4" y2="3170.3" stroke="#636363" stroke-width="4.6"/>
<line x1="1287.4" y1="3153.3" x2="1287.4" y2="3220" stroke="#858585" stroke-width="4.2"/>
<line x1="1279.2" y1="3153.3" x2="1295.6" y2="3153.3" stroke="#636363" stroke-width="4.6"/>
<line x1="1279.2" y1="3220" x2="1295.6" y2="3220" stroke="#636363" stroke-width="4.6"/>
<line x1="1487.2" y1="3204.2" x2="1487.2" y2="3266.9" stroke="#858585" stroke-width="4.2"/>
<line x1="1479" y1="3204.2" x2="1495.4" y2="3204.2" stroke="#636363" stroke-width="4.6"/>
<line x1="1479" y1="3266.9" x2="1495.4" y2="3266.9" stroke="#636363" stroke-width="4.6"/>
<line x1="1687.2" y1="3241.8" x2="1687.2" y2="3298.4" stroke="#858585" stroke-width="4.2"/>
<line x1="1679" y1="3241.8" x2="1695.4" y2="3241.8" stroke="#636363" stroke-width="4.6"/>
<line x1="1679" y1="3298.4" x2="1695.4" y2="3298.4" stroke="#636363" stroke-width="4.6"/>
<line x1="1887.4" y1="3291.1" x2="1887.4" y2="3359.9" stroke="#858585" stroke-width="4.2"/>
<line x1="1879.2" y1="3291.1" x2="1895.6" y2="3291.1" stroke="#636363" stroke-width="4.6"/>
<line x1="1879.2" y1="3359.9" x2="1895.6" y2="3359.9" stroke="#636363" stroke-width="4.6"/>
<line x1="2087.6" y1="3328.9" x2="2087.6" y2="3388.3" stroke="#858585" stroke-width="4.2"/>
<line x1="2079.4" y1="3328.9" x2="2095.8" y2="3328.9" stroke="#636363" stroke-width="4.6"/>
<line x1="2079.4" y1="3388.3" x2="2095.8" y2="3388.3" stroke="#636363" stroke-width="4.6"/>
<line x1="288" y1="2424.2" x2="288" y2="2575.2" stroke="#858585" stroke-width="4.2"/>
<line x1="279.8" y1="2424.2" x2="296.2" y2="2424.2" stroke="#636363" stroke-width="4.6"/>
<line x1="279.8" y1="2575.2" x2="296.2" y2="2575.2" stroke="#636363" stroke-width="4.6"/>
<line x1="487.6" y1="2604.8" x2="487.6" y2="2738.2" stroke="#858585" stroke-width="4.2"/>
<line x1="479.4" y1="2604.8" x2="495.8" y2="2604.8" stroke="#636363" stroke-width="4.6"/>
<line x1="479.4" y1="2738.2" x2="495.8" y2="2738.2" stroke="#636363" stroke-width="4.6"/>
<line x1="687.5" y1="2725.7" x2="687.5" y2="2847.4" stroke="#858585" stroke-width="4.2"/>
<line x1="679.3" y1="2725.7" x2="695.7" y2="2725.7" stroke="#636363" stroke-width="4.6"/>
<line x1="679.3" y1="2847.4" x2="695.7" y2="2847.4" stroke="#636363" stroke-width="4.6"/>
<line x1="887.3" y1="2846.8" x2="887.3" y2="2958.4" stroke="#858585" stroke-width="4.2"/>
<line x1="879.1" y1="2846.8" x2="895.5" y2="2846.8" stroke="#636363" stroke-width="4.6"/>
<line x1="879.1" y1="2958.4" x2="895.5" y2="2958.4" stroke="#636363" stroke-width="4.6"/>
<line x1="1087.2" y1="2966" x2="1087.2" y2="3061.5" stroke="#858585" stroke-width="4.2"/>
<line x1="1079" y1="2966" x2="1095.4" y2="2966" stroke="#636363" stroke-width="4.6"/>
<line x1="1079" y1="3061.5" x2="1095.4" y2="3061.5" stroke="#636363" stroke-width="4.6"/>
<line x1="1287.4" y1="3054.3" x2="1287.4" y2="3145.2" stroke="#858585" stroke-width="4.2"/>
<line x1="1279.2" y1="3054.3" x2="1295.6" y2="3054.3" stroke="#636363" stroke-width="4.6"/>
<line x1="1279.2" y1="3145.2" x2="1295.6" y2="3145.2" stroke="#636363" stroke-width="4.6"/>
<line x1="1487.2" y1="3133.4" x2="1487.2" y2="3222.6" stroke="#858585" stroke-width="4.2"/>
<line x1="1479" y1="3133.4" x2="1495.4" y2="3133.4" stroke="#636363" stroke-width="4.6"/>
<line x1="1479" y1="3222.6" x2="1495.4" y2="3222.6" stroke="#636363" stroke-width="4.6"/>
<line x1="1687.2" y1="3202.2" x2="1687.2" y2="3281.4" stroke="#858585" stroke-width="4.2"/>
<line x1="1679" y1="3202.2" x2="1695.4" y2="3202.2" stroke="#636363" stroke-width="4.6"/>
<line x1="1679" y1="3281.4" x2="1695.4" y2="3281.4" stroke="#636363" stroke-width="4.6"/>
<line x1="1887.4" y1="3279.8" x2="1887.4" y2="3353.4" stroke="#858585" stroke-width="4.2"/>
<line x1="1879.2" y1="3279.8" x2="1895.6" y2="3279.8" stroke="#636363" stroke-width="4.6"/>
<line x1="1879.2" y1="3353.4" x2="1895.6" y2="3353.4" stroke="#636363" stroke-width="4.6"/>
<line x1="2087.6" y1="3350.5" x2="2087.6" y2="3411.7" stroke="#858585" stroke-width="4.2"/>
<line x1="2079.4" y1="3350.5" x2="2095.8" y2="3350.5" stroke="#636363" stroke-width="4.6"/>
<line x1="2079.4" y1="3411.7" x2="2095.8" y2="3411.7" stroke="#636363" stroke-width="4.6"/>
<line x1="288" y1="2112" x2="288" y2="2259.2" stroke="#858585" stroke-width="4.2"/>
<line x1="279.8" y1="2112" x2="296.2" y2="2112" stroke="#636363" stroke-width="4.6"/>
<line x1="279.8" y1="2259.2" x2="296.2" y2="2259.2" stroke="#636363" stroke-width="4.6"/>
<line x1="487.6" y1="2389.4" x2="487.6" y2="2513.3" stroke="#858585" stroke-width="4.2"/>
<line x1="479.4" y1="2389.4" x2="495.8" y2="2389.4" stroke="#636363" stroke-width="4.6"/>
<line x1="479.4" y1="2513.3" x2="495.8" y2="2513.3" stroke="#636363" stroke-width="4.6"/>
<line x1="687.5" y1="2584.5" x2="687.5" y2="2694.5" stroke="#858585" stroke-width="4.2"/>
<line x1="679.3" y1="2584.5" x2="695.7" y2="2584.5" stroke="#636363" stroke-width="4.6"/>
<line x1="679.3" y1="2694.5" x2="695.7" y2="2694.5" stroke="#636363" stroke-width="4.6"/>
<line x1="887.3" y1="2761.9" x2="887.3" y2="2858.1" stroke="#858585" stroke-width="4.2"/>
<line x1="879.1" y1="2761.9" x2="895.5" y2="2761.9" stroke="#636363" stroke-width="4.6"/>
<line x1="879.1" y1="2858.1" x2="895.5" y2="2858.1" stroke="#636363" stroke-width="4.6"/>
<line x1="1087.2" y1="2916" x2="1087.2" y2="3002" stroke="#858585" stroke-width="4.2"/>
<line x1="1079" y1="2916" x2="1095.4" y2="2916" stroke="#636363" stroke-width="4.6"/>
<line x1="1079" y1="3002" x2="1095.4" y2="3002" stroke="#636363" stroke-width="4.6"/>
<line x1="1287.4" y1="3042.1" x2="1287.4" y2="3117" stroke="#858585" stroke-width="4.2"/>
<line x1="1279.2" y1="3042.1" x2="1295.6" y2="3042.1" stroke="#636363" stroke-width="4.6"/>
<line x1="1279.2" y1="3117" x2="1295.6" y2="3117" stroke="#636363" stroke-width="4.6"/>
<line x1="1487.2" y1="3151.6" x2="1487.2" y2="3218.4" stroke="#858585" stroke-width="4.2"/>
<line x1="1479" y1="3151.6" x2="1495.4" y2="3151.6" stroke="#636363" stroke-width="4.6"/>
<line x1="1479" y1="3218.4" x2="1495.4" y2="3218.4" stroke="#636363" stroke-width="4.6"/>
<line x1="1687.2" y1="3241.8" x2="1687.2" y2="3298.4" stroke="#858585" stroke-width="4.2"/>
<line x1="1679" y1="3241.8" x2="1695.4" y2="3241.8" stroke="#636363" stroke-width="4.6"/>
<line x1="1679" y1="3298.4" x2="1695.4" y2="3298.4" stroke="#636363" stroke-width="4.6"/>
<line x1="1887.4" y1="3320.2" x2="1887.4" y2="3368.8" stroke="#858585" stroke-width="4.2"/>
<line x1="1879.2" y1="3320.2" x2="1895.6" y2="3320.2" stroke="#636363" stroke-width="4.6"/>
<line x1="1879.2" y1="3368.8" x2="1895.6" y2="3368.8" stroke="#636363" stroke-width="4.6"/>
<line x1="2087.6" y1="3392" x2="2087.6" y2="3434" stroke="#858585" stroke-width="4.2"/>
<line x1="2079.4" y1="3392" x2="2095.8" y2="3392" stroke="#636363" stroke-width="4.6"/>
<line x1="2079.4" y1="3434" x2="2095.8" y2="3434" stroke="#636363" stroke-width="4.6"/>
</g>
<g fill="#149BDD">
<circle cx="288" cy="3392.2" r="15"/>
<circle cx="487.6" cy="3407.2" r="15"/>
<circle cx="687.5" cy="3407.6" r="15"/>
<circle cx="887.3" cy="3412.7" r="15"/>
<circle cx="1087.2" cy="3419.6" r="15"/>
<circle cx="1287.4" cy="3426.9" r="15"/>
<circle cx="1487.2" cy="3430.6" r="15"/>
<circle cx="1687.2" cy="3440.8" r="15"/>
<circle cx="1887.4" cy="3451.7" r="15"/>
<circle cx="2087.6" cy="3456.5" r="15"/>
</g>
<g fill="#FB7A26">
<circle cx="288" cy="3247.5" r="15"/>
<circle cx="487.6" cy="3284.3" r="15"/>
<circle cx="687.5" cy="3291.1" r="15"/>
<circle cx="887.3" cy="3307.6" r="15"/>
<circle cx="1087.2" cy="3327.8" r="15"/>
<circle cx="1287.4" cy="3342.8" r="15"/>
<circle cx="1487.2" cy="3355.8" r="15"/>
<circle cx="1687.2" cy="3380.9" r="15"/>
<circle cx="1887.4" cy="3393" r="15"/>
<circle cx="2087.6" cy="3412.9" r="15"/>
</g>
<g fill="#A5A5A5">
<circle cx="288" cy="2857.1" r="15"/>
<circle cx="487.6" cy="2969.5" r="15"/>
<circle cx="687.5" cy="3019.1" r="15"/>
<circle cx="887.3" cy="3076.5" r="15"/>
<circle cx="1087.2" cy="3137.2" r="15"/>
<circle cx="1287.4" cy="3187.6" r="15"/>
<circle cx="1487.2" cy="3237.4" r="15"/>
<circle cx="1687.2" cy="3270.1" r="15"/>
<circle cx="1887.4" cy="3344.5" r="15"/>
<circle cx="2087.6" cy="3358.6" r="15"/>
</g>
<g fill="#FFC000">
<circle cx="288" cy="2500.5" r="15"/>
<circle cx="487.6" cy="2673.1" r="15"/>
<circle cx="687.5" cy="2787.5" r="15"/>
<circle cx="887.3" cy="2903.4" r="15"/>
<circle cx="1087.2" cy="3013.8" r="15"/>
<circle cx="1287.4" cy="3102" r="15"/>
<circle cx="1487.2" cy="3178" r="15"/>
<circle cx="1687.2" cy="3241.8" r="15"/>
<circle cx="1887.4" cy="3316.6" r="15"/>
<circle cx="2087.6" cy="3381.1" r="15"/>
</g>
<g fill="#0A69C9">
<circle cx="288" cy="2186.4" r="15"/>
<circle cx="487.6" cy="2451.3" r="15"/>
<circle cx="687.5" cy="2641.2" r="15"/>
<circle cx="887.3" cy="2810.4" r="15"/>
<circle cx="1087.2" cy="2959.2" r="15"/>
<circle cx="1287.4" cy="3082.6" r="15"/>
<circle cx="1487.2" cy="3186.8" r="15"/>
<circle cx="1687.2" cy="3270.1" r="15"/>
<circle cx="1887.4" cy="3344.5" r="15"/>
<circle cx="2087.6" cy="3412.9" r="15"/>
</g>
</g>
<text x="1083.6" y="1904" font-family="Liberation Serif, serif" font-size="86" fill="#000" textLength="94.2" lengthAdjust="spacingAndGlyphs">(<tspan font-weight="bold">a</tspan>)</text>
<text x="1077.5" y="3806.6" font-family="Liberation Serif, serif" font-size="86" fill="#000" textLength="104.8" lengthAdjust="spacingAndGlyphs">(<tspan font-weight="bold">b</tspan>)</text>
</svg>
</body>
</html>
